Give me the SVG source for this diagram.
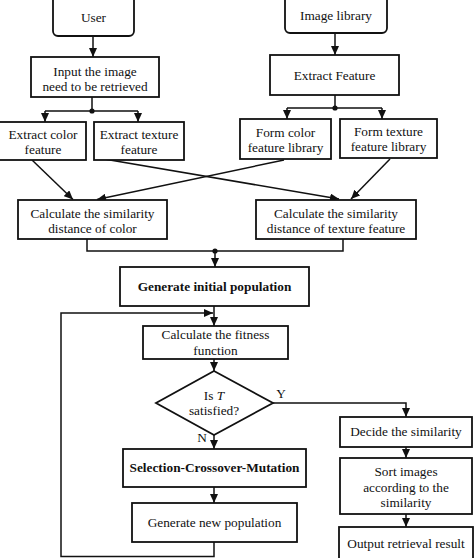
<svg xmlns="http://www.w3.org/2000/svg" width="474" height="558" viewBox="0 0 474 558">
<style>
.b{fill:#fff;stroke:#111;stroke-width:1.8}
.t{font-family:"Liberation Serif","Times New Roman",serif;font-size:13.3px;fill:#111;text-anchor:middle}
.bd{font-weight:bold}
.c{fill:none;stroke:#111;stroke-width:1.5}
.a{marker-end:url(#ah)}
</style>
<defs>
<marker id="ah" markerUnits="userSpaceOnUse" markerWidth="9" markerHeight="8" refX="9" refY="4" orient="auto">
<path d="M0,0 L9,4 L0,8 z" fill="#111"/>
</marker>
</defs>
<rect width="474" height="558" fill="#fff"/>
<g id="connectors">
<path class="c a" d="M93,36 V57"/>
<path class="c" d="M92,97 V111 M45,111 H138"/>
<path class="c a" d="M45,111 V122"/>
<path class="c a" d="M138,111 V122"/>
<circle cx="92" cy="111" r="2.6" fill="#111"/>
<path class="c a" d="M335,33 V55"/>
<path class="c" d="M335,95 V108 M287,108 H382"/>
<path class="c a" d="M287,108 V119"/>
<path class="c a" d="M382,108 V119"/>
<circle cx="335" cy="108" r="2.6" fill="#111"/>
<path class="c a" d="M32,160 L73,199.5"/>
<path class="c a" d="M104,159 L339,199"/>
<path class="c a" d="M284,160 L97,199.5"/>
<path class="c a" d="M390,159 L351,199"/>
<path class="c" d="M87,239 V251 H343 V239"/>
<path class="c a" d="M215,251 V267"/>
<circle cx="215" cy="251" r="2.6" fill="#111"/>
<path class="c a" d="M214,306 V326"/>
<path class="c a" d="M214,542 V556.5 H61 V313 H213"/>
<path class="c a" d="M214,359 V371"/>
<path class="c a" d="M273,403 H406 V417"/>
<path class="c a" d="M214,435 V449"/>
<path class="c a" d="M214,487 V503"/>
<path class="c a" d="M406,447 V458"/>
<path class="c a" d="M406,514 V527"/>
<text class="t" x="281" y="398">Y</text>
<text class="t" x="202" y="442">N</text>
</g>
<g id="user"><rect class="b" x="53" y="-6" width="81" height="42" rx="5"/><text class="t" x="93.5" y="21.5">User</text></g>
<g id="image-library"><rect class="b" x="285" y="-6" width="102" height="39" rx="5"/><text class="t" x="336" y="19.5">Image library</text></g>
<g id="input"><rect class="b" x="31" y="57" width="128" height="40"/><text class="t" x="95" y="75.5">Input the image</text><text class="t" x="95" y="90.5">need to be retrieved</text></g>
<g id="extract-feature"><rect class="b" x="270" y="55" width="129" height="40"/><text class="t" x="334.5" y="79.5">Extract Feature</text></g>
<g id="extract-color"><rect class="b" x="-1" y="122" width="87" height="38"/><text class="t" x="43" y="139">Extract color</text><text class="t" x="43" y="154">feature</text></g>
<g id="extract-texture"><rect class="b" x="94" y="122" width="90" height="38"/><text class="t" x="139" y="139">Extract texture</text><text class="t" x="139" y="154">feature</text></g>
<g id="form-color"><rect class="b" x="240" y="119" width="91" height="40"/><text class="t" x="285.5" y="136.5">Form color</text><text class="t" x="285.5" y="151.5">feature library</text></g>
<g id="form-texture"><rect class="b" x="340" y="119" width="97" height="39"/><text class="t" x="388.5" y="136">Form texture</text><text class="t" x="388.5" y="151">feature library</text></g>
<g id="calc-color"><rect class="b" x="18" y="200" width="149" height="39"/><text class="t" x="92.5" y="217.5">Calculate the similarity</text><text class="t" x="92.5" y="232.5">distance of color</text></g>
<g id="calc-texture"><rect class="b" x="256" y="200" width="160" height="39"/><text class="t" x="336" y="217.5">Calculate the similarity</text><text class="t" x="336" y="232.5">distance of texture feature</text></g>
<g id="gen-initial"><rect class="b" x="120" y="267" width="189" height="39"/><text class="t bd" x="214.5" y="291">Generate initial population</text></g>
<g id="fitness"><rect class="b" x="143" y="326" width="145" height="33"/><text class="t" x="215.5" y="339">Calculate the fitness</text><text class="t" x="215.5" y="355">function</text></g>
<g id="decision"><polygon class="b" points="214,371 273,403 214,435 156,403"/><text class="t" x="214" y="400">Is <tspan font-style="italic">T</tspan></text><text class="t" x="214" y="415">satisfied?</text></g>
<g id="selection"><rect class="b" x="123" y="449" width="183" height="38"/><text class="t bd" x="214.5" y="472">Selection-Crossover-Mutation</text></g>
<g id="gen-new"><rect class="b" x="132" y="503" width="165" height="39"/><text class="t" x="214.5" y="527">Generate new population</text></g>
<g id="decide"><rect class="b" x="340" y="417" width="132" height="30"/><text class="t" x="406" y="436">Decide the similarity</text></g>
<g id="sort"><rect class="b" x="340" y="458" width="132" height="56"/><text class="t" x="406" y="476">Sort images</text><text class="t" x="406" y="491.5">according to the</text><text class="t" x="406" y="507">similarity</text></g>
<g id="output"><rect class="b" x="339" y="527" width="134" height="38"/><text class="t" x="406" y="548">Output retrieval result</text></g>
</svg>
